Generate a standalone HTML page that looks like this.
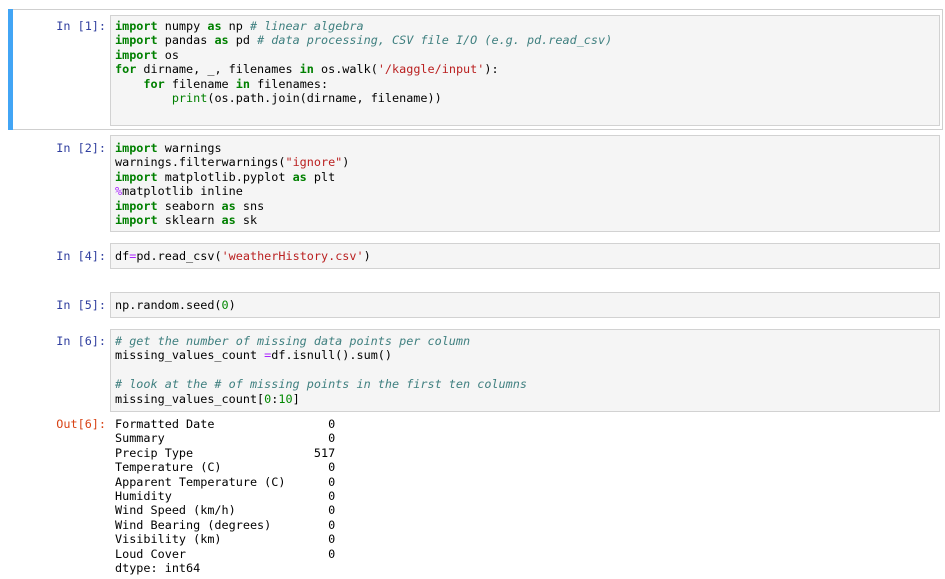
<!DOCTYPE html>
<html><head><meta charset="utf-8"><style>
body{margin:0;width:945px;height:579px;background:#fff;position:relative;overflow:hidden;font-family:"DejaVu Sans Mono","Liberation Mono",monospace;font-size:11.8px;color:#000}
.sel{position:absolute;left:8px;top:9px;width:935px;height:121px;border:1px solid #cfcfcf;border-left:none;box-sizing:border-box}
.bar{position:absolute;left:8px;top:9px;width:5px;height:121px;background:#42a5f5}
.box{position:absolute;left:110px;width:830px;background:#f5f5f5;border:1px solid #d2d2d2;box-sizing:border-box}
pre{margin:0;position:absolute;left:115px;font:inherit;line-height:14.4px;white-space:pre}
.p{position:absolute;right:839px;font:inherit;line-height:14.4px;color:#303f9f;white-space:pre}
.o{color:#d84315}
.k{color:#008000;font-weight:bold}.c{color:#408080;font-style:italic}.s{color:#ba2121}.n{color:#080}.op{color:#aa22ff}.b{color:#008000}
</style></head><body>
<div class="sel"></div><div class="bar"></div>
<div class="box" style="top:15px;height:111px"></div>
<div class="p" style="top:19px">In [1]:</div>
<pre style="top:19px"><span class="k">import</span> numpy <span class="k">as</span> np <span class="c"># linear algebra</span>
<span class="k">import</span> pandas <span class="k">as</span> pd <span class="c"># data processing, CSV file I/O (e.g. pd.read_csv)</span>
<span class="k">import</span> os
<span class="k">for</span> dirname, _, filenames <span class="k">in</span> os.walk(<span class="s">'/kaggle/input'</span>):
    <span class="k">for</span> filename <span class="k">in</span> filenames:
        <span class="b">print</span>(os.path.join(dirname, filename))</pre>

<div class="box" style="top:135px;height:97px"></div>
<div class="p" style="top:141px">In [2]:</div>
<pre style="top:141px"><span class="k">import</span> warnings
warnings.filterwarnings(<span class="s">"ignore"</span>)
<span class="k">import</span> matplotlib.pyplot <span class="k">as</span> plt
<span class="op">%</span>matplotlib inline
<span class="k">import</span> seaborn <span class="k">as</span> sns
<span class="k">import</span> sklearn <span class="k">as</span> sk</pre>

<div class="box" style="top:243px;height:26px"></div>
<div class="p" style="top:249px">In [4]:</div>
<pre style="top:249px">df<span class="op">=</span>pd.read_csv(<span class="s">'weatherHistory.csv'</span>)</pre>

<div class="box" style="top:292px;height:26px"></div>
<div class="p" style="top:298px">In [5]:</div>
<pre style="top:298px">np.random.seed(<span class="n">0</span>)</pre>

<div class="box" style="top:329px;height:83px"></div>
<div class="p" style="top:334px">In [6]:</div>
<pre style="top:334px"><span class="c"># get the number of missing data points per column</span>
missing_values_count <span class="op">=</span>df.isnull().sum()

<span class="c"># look at the # of missing points in the first ten columns</span>
missing_values_count[<span class="n">0</span>:<span class="n">10</span>]</pre>

<div class="p o" style="top:417px">Out[6]:</div>
<pre style="top:417px">Formatted Date                0
Summary                       0
Precip Type                 517
Temperature (C)               0
Apparent Temperature (C)      0
Humidity                      0
Wind Speed (km/h)             0
Wind Bearing (degrees)        0
Visibility (km)               0
Loud Cover                    0
dtype: int64</pre>
</body></html>
